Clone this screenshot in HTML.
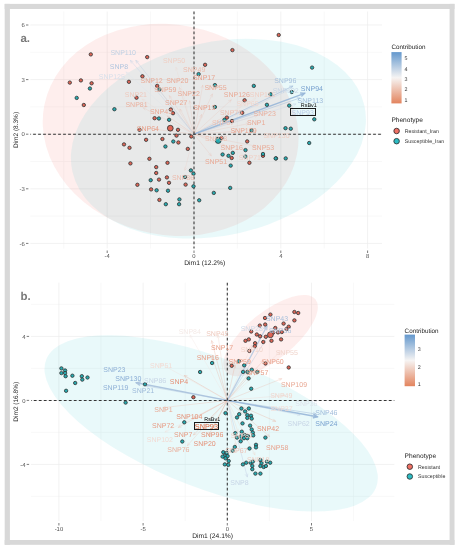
<!DOCTYPE html>
<html><head><meta charset="utf-8"><style>html,body{margin:0;padding:0;background:#fff;width:460px;height:550px;overflow:hidden}svg{display:block;will-change:transform;text-rendering:geometricPrecision;filter:blur(0.35px)}</style></head><body>
<svg width="460" height="550" viewBox="0 0 460 550">
<style>
.gmin{stroke:#f3f3f3;stroke-width:0.6}
.gmaj{stroke:#ededed;stroke-width:0.7}
.tick{stroke:#444;stroke-width:0.7}
.tl{font-family:"Liberation Sans",sans-serif;font-size:5.9px;fill:#4d4d4d}
.vl{font-family:"Liberation Sans",sans-serif;font-size:7px}
.ax{stroke:#333;stroke-width:1.05;stroke-dasharray:2.8 2.2}
.pt circle{stroke:#2e3434;stroke-width:0.8}
.ttl{font-family:"Liberation Sans",sans-serif;font-size:6.6px;fill:#222}
.lt{font-family:"Liberation Sans",sans-serif;font-size:6.6px;fill:#222}
.ll{font-family:"Liberation Sans",sans-serif;font-size:5.3px;fill:#333}
.tag{font-family:"Liberation Sans",sans-serif;font-size:11.5px;font-weight:bold;fill:#7a7a7a}
</style>
<rect x="0" y="0" width="460" height="550" fill="#fff"/>
<g fill="#d8d8d8"><rect x="4.7" y="3.9" width="5.2" height="540.9"/><rect x="4.7" y="3.9" width="449.8" height="5.1"/><rect x="449.6" y="3.9" width="4.9" height="540.9"/><rect x="4.7" y="540" width="449.8" height="4.8"/></g>
<defs><linearGradient id="cb" x1="0" y1="0" x2="0" y2="1"><stop offset="0" stop-color="#6498cd"/><stop offset="0.5" stop-color="#f6f4f3"/><stop offset="1" stop-color="#e3845e"/></linearGradient></defs>
<line x1="63.8" y1="11.5" x2="63.8" y2="248.5" class="gmin"/>
<line x1="150.6" y1="11.5" x2="150.6" y2="248.5" class="gmin"/>
<line x1="237.4" y1="11.5" x2="237.4" y2="248.5" class="gmin"/>
<line x1="324.2" y1="11.5" x2="324.2" y2="248.5" class="gmin"/>
<line x1="30.3" y1="216.1" x2="382" y2="216.1" class="gmin"/>
<line x1="30.3" y1="161.5" x2="382" y2="161.5" class="gmin"/>
<line x1="30.3" y1="106.9" x2="382" y2="106.9" class="gmin"/>
<line x1="30.3" y1="52.3" x2="382" y2="52.3" class="gmin"/>
<line x1="107.2" y1="11.5" x2="107.2" y2="248.5" class="gmaj"/>
<line x1="194.0" y1="11.5" x2="194.0" y2="248.5" class="gmaj"/>
<line x1="280.8" y1="11.5" x2="280.8" y2="248.5" class="gmaj"/>
<line x1="367.6" y1="11.5" x2="367.6" y2="248.5" class="gmaj"/>
<line x1="30.3" y1="243.4" x2="382" y2="243.4" class="gmaj"/>
<line x1="30.3" y1="188.8" x2="382" y2="188.8" class="gmaj"/>
<line x1="30.3" y1="134.2" x2="382" y2="134.2" class="gmaj"/>
<line x1="30.3" y1="79.6" x2="382" y2="79.6" class="gmaj"/>
<line x1="30.3" y1="25.0" x2="382" y2="25.0" class="gmaj"/>
<ellipse cx="170.64" cy="129.89" rx="128.71" ry="105.15" transform="rotate(11.01 170.64 129.89)" fill="#F8766D" fill-opacity="0.12"/>
<ellipse cx="218.42" cy="138.65" rx="149.7" ry="96.66" transform="rotate(-12.78 218.42 138.65)" fill="#00BFC4" fill-opacity="0.085"/>
<g stroke="#efcfc4" stroke-opacity="0.35" stroke-width="0.5" fill="none" stroke-linecap="round"><line x1="194" y1="134.2" x2="176.0" y2="67.2"/><polyline points="177.8,69.4 176.0,67.2 175.5,70.0"/></g>
<g stroke="#e9aa96" stroke-opacity="0.35" stroke-width="0.5" fill="none" stroke-linecap="round"><line x1="194" y1="134.2" x2="156.2" y2="86.2"/><polyline points="158.7,87.5 156.2,86.2 156.9,88.9"/></g>
<g stroke="#e9aa96" stroke-opacity="0.35" stroke-width="0.5" fill="none" stroke-linecap="round"><line x1="194" y1="134.2" x2="179.5" y2="87.5"/><polyline points="181.4,89.5 179.5,87.5 179.1,90.2"/></g>
<g stroke="#e9aa96" stroke-opacity="0.35" stroke-width="0.5" fill="none" stroke-linecap="round"><line x1="194" y1="134.2" x2="169.3" y2="95.7"/><polyline points="171.7,97.2 169.3,95.7 169.7,98.5"/></g>
<g stroke="#eec9bd" stroke-opacity="0.35" stroke-width="0.5" fill="none" stroke-linecap="round"><line x1="194" y1="134.2" x2="142.1" y2="99.1"/><polyline points="144.9,99.5 142.1,99.1 143.6,101.5"/></g>
<g stroke="#eab09e" stroke-opacity="0.35" stroke-width="0.5" fill="none" stroke-linecap="round"><line x1="194" y1="134.2" x2="143.2" y2="107.8"/><polyline points="146.0,107.9 143.2,107.8 144.9,110.0"/></g>
<g stroke="#e9aa96" stroke-opacity="0.35" stroke-width="0.5" fill="none" stroke-linecap="round"><line x1="194" y1="134.2" x2="179.9" y2="109.0"/><polyline points="182.1,110.7 179.9,109.0 180.1,111.8"/></g>
<g stroke="#e9aa96" stroke-opacity="0.35" stroke-width="0.5" fill="none" stroke-linecap="round"><line x1="194" y1="134.2" x2="167.2" y2="115.9"/><polyline points="170.0,116.4 167.2,115.9 168.6,118.3"/></g>
<g stroke="#e79d86" stroke-opacity="0.35" stroke-width="0.5" fill="none" stroke-linecap="round"><line x1="194" y1="134.2" x2="155.3" y2="129.4"/><polyline points="158.0,128.6 155.3,129.4 157.7,130.9"/></g>
<g stroke="#ecbcad" stroke-opacity="0.35" stroke-width="0.5" fill="none" stroke-linecap="round"><line x1="194" y1="134.2" x2="194.2" y2="76.6"/><polyline points="195.4,79.1 194.2,76.6 193.0,79.1"/></g>
<g stroke="#e8a38e" stroke-opacity="0.35" stroke-width="0.5" fill="none" stroke-linecap="round"><line x1="194" y1="134.2" x2="202.7" y2="85.3"/><polyline points="203.4,88.0 202.7,85.3 201.1,87.6"/></g>
<g stroke="#e9aa96" stroke-opacity="0.35" stroke-width="0.5" fill="none" stroke-linecap="round"><line x1="194" y1="134.2" x2="212.4" y2="94.0"/><polyline points="212.4,96.8 212.4,94.0 210.2,95.8"/></g>
<g stroke="#e9aa96" stroke-opacity="0.35" stroke-width="0.5" fill="none" stroke-linecap="round"><line x1="194" y1="134.2" x2="189.7" y2="100.8"/><polyline points="191.2,103.2 189.7,100.8 188.8,103.5"/></g>
<g stroke="#e9aa96" stroke-opacity="0.35" stroke-width="0.5" fill="none" stroke-linecap="round"><line x1="194" y1="134.2" x2="231.3" y2="99.8"/><polyline points="230.2,102.4 231.3,99.8 228.6,100.6"/></g>
<g stroke="#e8a38e" stroke-opacity="0.35" stroke-width="0.5" fill="none" stroke-linecap="round"><line x1="194" y1="134.2" x2="201.6" y2="114.6"/><polyline points="201.8,117.4 201.6,114.6 199.6,116.5"/></g>
<g stroke="#edc2b5" stroke-opacity="0.35" stroke-width="0.5" fill="none" stroke-linecap="round"><line x1="194" y1="134.2" x2="224.5" y2="116.6"/><polyline points="222.9,118.8 224.5,116.6 221.7,116.8"/></g>
<g stroke="#eab09e" stroke-opacity="0.35" stroke-width="0.5" fill="none" stroke-linecap="round"><line x1="194" y1="134.2" x2="257.5" y2="115.3"/><polyline points="255.4,117.2 257.5,115.3 254.7,114.9"/></g>
<g stroke="#e9aa96" stroke-opacity="0.35" stroke-width="0.5" fill="none" stroke-linecap="round"><line x1="194" y1="134.2" x2="248.8" y2="123.6"/><polyline points="246.6,125.3 248.8,123.6 246.1,122.9"/></g>
<g stroke="#e8a38e" stroke-opacity="0.35" stroke-width="0.5" fill="none" stroke-linecap="round"><line x1="194" y1="134.2" x2="236.0" y2="131.4"/><polyline points="233.6,132.7 236.0,131.4 233.4,130.4"/></g>
<g stroke="#edc2b5" stroke-opacity="0.35" stroke-width="0.5" fill="none" stroke-linecap="round"><line x1="194" y1="134.2" x2="216.1" y2="125.1"/><polyline points="214.2,127.1 216.1,125.1 213.3,124.9"/></g>
<g stroke="#efcfc4" stroke-opacity="0.35" stroke-width="0.5" fill="none" stroke-linecap="round"><line x1="194" y1="134.2" x2="256.0" y2="97.9"/><polyline points="254.4,100.2 256.0,97.9 253.2,98.1"/></g>
<g stroke="#f0d5cc" stroke-opacity="0.35" stroke-width="0.5" fill="none" stroke-linecap="round"><line x1="194" y1="134.2" x2="241.0" y2="106.8"/><polyline points="239.4,109.1 241.0,106.8 238.2,107.0"/></g>
<g stroke="#efcfc4" stroke-opacity="0.35" stroke-width="0.5" fill="none" stroke-linecap="round"><line x1="194" y1="134.2" x2="269.0" y2="135.6"/><polyline points="266.4,136.7 269.0,135.6 266.5,134.3"/></g>
<g stroke="#edc2b5" stroke-opacity="0.35" stroke-width="0.5" fill="none" stroke-linecap="round"><line x1="194" y1="134.2" x2="208.6" y2="136.9"/><polyline points="205.9,137.6 208.6,136.9 206.3,135.3"/></g>
<g stroke="#e9aa96" stroke-opacity="0.35" stroke-width="0.5" fill="none" stroke-linecap="round"><line x1="194" y1="134.2" x2="224.7" y2="145.3"/><polyline points="221.9,145.6 224.7,145.3 222.7,143.4"/></g>
<g stroke="#e9aa96" stroke-opacity="0.35" stroke-width="0.5" fill="none" stroke-linecap="round"><line x1="194" y1="134.2" x2="255.6" y2="146.1"/><polyline points="252.9,146.8 255.6,146.1 253.4,144.4"/></g>
<g stroke="#e9aa96" stroke-opacity="0.35" stroke-width="0.5" fill="none" stroke-linecap="round"><line x1="194" y1="134.2" x2="211.3" y2="155.8"/><polyline points="208.8,154.6 211.3,155.8 210.7,153.1"/></g>
<g stroke="#efcfc4" stroke-opacity="0.35" stroke-width="0.5" fill="none" stroke-linecap="round"><line x1="194" y1="134.2" x2="243.0" y2="154.4"/><polyline points="240.2,154.6 243.0,154.4 241.1,152.4"/></g>
<g stroke="#ecbcad" stroke-opacity="0.35" stroke-width="0.5" fill="none" stroke-linecap="round"><line x1="194" y1="134.2" x2="184.8" y2="170.3"/><polyline points="184.3,167.6 184.8,170.3 186.6,168.2"/></g>
<g stroke="#c7d5e6" stroke-opacity="0.9" stroke-width="0.5" fill="none" stroke-linecap="round"><line x1="194" y1="134.2" x2="130.4" y2="60.4"/><polyline points="133.0,61.5 130.4,60.4 131.2,63.1"/></g>
<g stroke="#bfd0e3" stroke-opacity="0.9" stroke-width="0.5" fill="none" stroke-linecap="round"><line x1="194" y1="134.2" x2="135.9" y2="60.4"/><polyline points="138.4,61.7 135.9,60.4 136.5,63.1"/></g>
<g stroke="#dee4ec" stroke-opacity="0.9" stroke-width="0.5" fill="none" stroke-linecap="round"><line x1="194" y1="134.2" x2="126.0" y2="72.0"/><polyline points="128.7,72.8 126.0,72.0 127.1,74.6"/></g>
<g stroke="#a7c0dc" stroke-opacity="0.9" stroke-width="0.8" fill="none" stroke-linecap="round"><line x1="194" y1="134.2" x2="292.8" y2="86.1"/><polyline points="290.8,88.6 292.8,86.1 289.6,86.2"/></g>
<g stroke="#c7d5e6" stroke-opacity="0.9" stroke-width="0.5" fill="none" stroke-linecap="round"><line x1="194" y1="134.2" x2="288.0" y2="90.5"/><polyline points="286.2,92.6 288.0,90.5 285.2,90.5"/></g>
<g stroke="#a7c0dc" stroke-opacity="0.9" stroke-width="0.6" fill="none" stroke-linecap="round"><line x1="194" y1="134.2" x2="300.0" y2="98.0"/><polyline points="297.9,100.0 300.0,98.0 297.1,97.7"/></g>
<g stroke="#cedae8" stroke-opacity="0.9" stroke-width="0.5" fill="none" stroke-linecap="round"><line x1="194" y1="134.2" x2="296.0" y2="104.0"/><polyline points="293.9,105.9 296.0,104.0 293.2,103.6"/></g>
<g stroke="#97b6d8" stroke-opacity="0.9" stroke-width="1.4" fill="none" stroke-linecap="round"><line x1="194" y1="134.2" x2="304.5" y2="93.3"/><polyline points="301.8,96.1 304.5,93.3 300.6,93.0"/></g>
<line x1="30.3" y1="134.2" x2="382" y2="134.2" class="ax" stroke-dashoffset="2.2"/>
<line x1="194" y1="11.5" x2="194" y2="248.5" class="ax"/>
<g class="pt"><circle cx="90.8" cy="54.4" r="1.7" fill="#dd6556"/>
<circle cx="69.8" cy="82.6" r="1.7" fill="#dd6556"/>
<circle cx="80.9" cy="80.4" r="1.7" fill="#dd6556"/>
<circle cx="91.6" cy="83.3" r="1.7" fill="#dd6556"/>
<circle cx="83.8" cy="105" r="1.7" fill="#dd6556"/>
<circle cx="147.2" cy="57.1" r="1.7" fill="#dd6556"/>
<circle cx="142.4" cy="76.3" r="1.7" fill="#dd6556"/>
<circle cx="128.9" cy="81.8" r="1.7" fill="#dd6556"/>
<circle cx="157.2" cy="85.9" r="1.7" fill="#dd6556"/>
<circle cx="136.5" cy="97.7" r="1.7" fill="#dd6556"/>
<circle cx="170.8" cy="109.5" r="1.7" fill="#dd6556"/>
<circle cx="173" cy="113.2" r="1.7" fill="#dd6556"/>
<circle cx="154.6" cy="118.2" r="1.7" fill="#dd6556"/>
<circle cx="178" cy="129.8" r="1.7" fill="#dd6556"/>
<circle cx="139.5" cy="129.8" r="1.7" fill="#dd6556"/>
<circle cx="176.5" cy="135.6" r="1.7" fill="#dd6556"/>
<circle cx="146.1" cy="139.8" r="1.7" fill="#dd6556"/>
<circle cx="162.4" cy="139" r="1.7" fill="#dd6556"/>
<circle cx="278.7" cy="35" r="1.7" fill="#dd6556"/>
<circle cx="232.4" cy="50.1" r="1.7" fill="#dd6556"/>
<circle cx="205.1" cy="64.8" r="1.7" fill="#dd6556"/>
<circle cx="244.6" cy="100.3" r="1.7" fill="#dd6556"/>
<circle cx="242.2" cy="112.8" r="1.7" fill="#dd6556"/>
<circle cx="226.9" cy="117.6" r="1.7" fill="#dd6556"/>
<circle cx="232" cy="121" r="1.7" fill="#dd6556"/>
<circle cx="191.3" cy="136.5" r="1.7" fill="#dd6556"/>
<circle cx="221.5" cy="137.9" r="1.7" fill="#dd6556"/>
<circle cx="124" cy="144.4" r="1.7" fill="#dd6556"/>
<circle cx="129.5" cy="147.8" r="1.7" fill="#dd6556"/>
<circle cx="178.4" cy="142.5" r="1.7" fill="#dd6556"/>
<circle cx="187.8" cy="148.9" r="1.7" fill="#dd6556"/>
<circle cx="149.4" cy="158.8" r="1.7" fill="#dd6556"/>
<circle cx="130.4" cy="163.4" r="1.7" fill="#dd6556"/>
<circle cx="167.5" cy="162.8" r="1.7" fill="#dd6556"/>
<circle cx="156.2" cy="167.1" r="1.7" fill="#dd6556"/>
<circle cx="156.2" cy="173" r="1.7" fill="#dd6556"/>
<circle cx="166.9" cy="177.4" r="1.7" fill="#dd6556"/>
<circle cx="159" cy="179.6" r="1.7" fill="#dd6556"/>
<circle cx="169" cy="182.8" r="1.7" fill="#dd6556"/>
<circle cx="137.4" cy="184.8" r="1.7" fill="#dd6556"/>
<circle cx="185.6" cy="184.6" r="1.7" fill="#dd6556"/>
<circle cx="151.1" cy="189.4" r="1.7" fill="#dd6556"/>
<circle cx="159.4" cy="199.9" r="1.7" fill="#dd6556"/>
<circle cx="247.2" cy="141.4" r="1.7" fill="#dd6556"/>
<circle cx="231.7" cy="158" r="1.7" fill="#dd6556"/>
<circle cx="249.4" cy="162.8" r="1.7" fill="#dd6556"/>
<circle cx="263" cy="155.8" r="1.7" fill="#dd6556"/><circle cx="89.9" cy="88.5" r="1.7" fill="#27aab0"/>
<circle cx="76.7" cy="97.9" r="1.7" fill="#27aab0"/>
<circle cx="159.4" cy="89.4" r="1.7" fill="#27aab0"/>
<circle cx="114.4" cy="109.2" r="1.7" fill="#27aab0"/>
<circle cx="158.9" cy="118.5" r="1.7" fill="#27aab0"/>
<circle cx="169.1" cy="119.8" r="1.7" fill="#27aab0"/>
<circle cx="198.6" cy="74.1" r="1.7" fill="#27aab0"/>
<circle cx="214.9" cy="85.1" r="1.7" fill="#27aab0"/>
<circle cx="253.8" cy="85.9" r="1.7" fill="#27aab0"/>
<circle cx="270.6" cy="94.3" r="1.7" fill="#27aab0"/>
<circle cx="266.9" cy="104.8" r="1.7" fill="#27aab0"/>
<circle cx="214.9" cy="107" r="1.7" fill="#27aab0"/>
<circle cx="224.5" cy="119.8" r="1.7" fill="#27aab0"/>
<circle cx="251.6" cy="130.4" r="1.7" fill="#27aab0"/>
<circle cx="218" cy="139" r="1.7" fill="#27aab0"/>
<circle cx="312.1" cy="67.6" r="1.7" fill="#27aab0"/>
<circle cx="291.8" cy="92" r="1.7" fill="#27aab0"/>
<circle cx="289.2" cy="105.6" r="1.7" fill="#27aab0"/>
<circle cx="314.3" cy="119.3" r="1.7" fill="#27aab0"/>
<circle cx="285.5" cy="128.2" r="1.7" fill="#27aab0"/>
<circle cx="290.8" cy="128.7" r="1.7" fill="#27aab0"/>
<circle cx="165.4" cy="146.5" r="1.7" fill="#27aab0"/>
<circle cx="173.3" cy="141.5" r="1.7" fill="#27aab0"/>
<circle cx="150.7" cy="180.2" r="1.7" fill="#27aab0"/>
<circle cx="156.6" cy="190.3" r="1.7" fill="#27aab0"/>
<circle cx="168" cy="190.7" r="1.7" fill="#27aab0"/>
<circle cx="179.4" cy="199.4" r="1.7" fill="#27aab0"/>
<circle cx="165.8" cy="204.2" r="1.7" fill="#27aab0"/>
<circle cx="179.1" cy="204.2" r="1.7" fill="#27aab0"/>
<circle cx="185" cy="177" r="1.7" fill="#27aab0"/>
<circle cx="222.6" cy="154.5" r="1.7" fill="#27aab0"/>
<circle cx="228.5" cy="155.8" r="1.7" fill="#27aab0"/>
<circle cx="232.8" cy="152.9" r="1.7" fill="#27aab0"/>
<circle cx="245.5" cy="150.1" r="1.7" fill="#27aab0"/>
<circle cx="245.5" cy="156.6" r="1.7" fill="#27aab0"/>
<circle cx="263" cy="154" r="1.7" fill="#27aab0"/>
<circle cx="276" cy="158.4" r="1.7" fill="#27aab0"/>
<circle cx="230.7" cy="165.6" r="1.7" fill="#27aab0"/>
<circle cx="190.9" cy="170.4" r="1.7" fill="#27aab0"/>
<circle cx="193.5" cy="173.7" r="1.7" fill="#27aab0"/>
<circle cx="193.5" cy="186.3" r="1.7" fill="#27aab0"/>
<circle cx="230.2" cy="187.9" r="1.7" fill="#27aab0"/>
<circle cx="213.8" cy="192.9" r="1.7" fill="#27aab0"/>
<circle cx="199.2" cy="200.3" r="1.7" fill="#27aab0"/>
<circle cx="309.2" cy="143" r="1.7" fill="#27aab0"/>
<circle cx="275.7" cy="158.4" r="1.7" fill="#27aab0"/>
<circle cx="285.7" cy="158.4" r="1.7" fill="#27aab0"/><circle cx="170.3" cy="128.2" r="2.9" fill="#dd6556"/><circle cx="218.2" cy="140.5" r="2.9" fill="#27aab0"/></g>
<text x="123.2" y="55.3" fill="#bfd0e3" fill-opacity="1.0" text-anchor="middle" class="vl">SNP110</text>
<text x="119" y="68.8" fill="#afc5df" fill-opacity="1.0" text-anchor="middle" class="vl">SNP8</text>
<text x="111.8" y="79.3" fill="#d6dfea" fill-opacity="1.0" text-anchor="middle" class="vl">SNP125</text>
<text x="174" y="62.5" fill="#efcfc4" fill-opacity="1.0" text-anchor="middle" class="vl">SNP50</text>
<text x="151.6" y="82.8" fill="#e9aa96" fill-opacity="1.0" text-anchor="middle" class="vl">SNP12</text>
<text x="177.3" y="82.8" fill="#e9aa96" fill-opacity="1.0" text-anchor="middle" class="vl">SNP20</text>
<text x="165.3" y="91.9" fill="#e9aa96" fill-opacity="1.0" text-anchor="middle" class="vl">SNP59</text>
<text x="135.9" y="97.4" fill="#eec9bd" fill-opacity="1.0" text-anchor="middle" class="vl">SNP21</text>
<text x="136.5" y="106.8" fill="#eab09e" fill-opacity="1.0" text-anchor="middle" class="vl">SNP81</text>
<text x="176.2" y="105.0" fill="#e9aa96" fill-opacity="1.0" text-anchor="middle" class="vl">SNP27</text>
<text x="161" y="114.2" fill="#e9aa96" fill-opacity="1.0" text-anchor="middle" class="vl">SNP43</text>
<text x="147.9" y="131.0" fill="#e79d86" fill-opacity="1.0" text-anchor="middle" class="vl">SNP64</text>
<text x="194.2" y="71.6" fill="#ecbcad" fill-opacity="1.0" text-anchor="middle" class="vl">SNP49</text>
<text x="204" y="80.4" fill="#e8a38e" fill-opacity="1.0" text-anchor="middle" class="vl">SNP17</text>
<text x="215.5" y="89.7" fill="#e9aa96" fill-opacity="1.0" text-anchor="middle" class="vl">SNP55</text>
<text x="188.7" y="95.9" fill="#e9aa96" fill-opacity="1.0" text-anchor="middle" class="vl">SNP22</text>
<text x="236.8" y="97.2" fill="#e9aa96" fill-opacity="1.0" text-anchor="middle" class="vl">SNP126</text>
<text x="204.3" y="110.1" fill="#e8a38e" fill-opacity="1.0" text-anchor="middle" class="vl">SNP13</text>
<text x="231" y="115.3" fill="#edc2b5" fill-opacity="1.0" text-anchor="middle" class="vl">SNP79</text>
<text x="264.7" y="115.7" fill="#eab09e" fill-opacity="1.0" text-anchor="middle" class="vl">SNP23</text>
<text x="256.2" y="124.7" fill="#e9aa96" fill-opacity="1.0" text-anchor="middle" class="vl">SNP1</text>
<text x="243.5" y="133.4" fill="#e8a38e" fill-opacity="1.0" text-anchor="middle" class="vl">SNP109</text>
<text x="223" y="124.7" fill="#edc2b5" fill-opacity="1.0" text-anchor="middle" class="vl">SNP67</text>
<text x="262.5" y="96.6" fill="#efcfc4" fill-opacity="1.0" text-anchor="middle" class="vl">SNP115</text>
<text x="247.5" y="105.5" fill="#f0d5cc" fill-opacity="1.0" text-anchor="middle" class="vl">SNP65</text>
<text x="285.3" y="83.2" fill="#a7c0dc" fill-opacity="1.0" text-anchor="middle" class="vl">SNP96</text>
<text x="285.7" y="92.8" fill="#c7d5e6" fill-opacity="1.0" text-anchor="middle" class="vl">SNP102</text>
<text x="311.9" y="91.3" fill="#78a1cf" fill-opacity="1.0" text-anchor="middle" class="vl">SNP94</text>
<text x="310.4" y="102.8" fill="#9fbbda" fill-opacity="1.0" text-anchor="middle" class="vl">SNP113</text>
<text x="276.5" y="138.2" fill="#efcfc4" fill-opacity="1.0" text-anchor="middle" class="vl">SNP130</text>
<text x="216" y="140.8" fill="#edc2b5" fill-opacity="1.0" text-anchor="middle" class="vl">SNP38</text>
<text x="231.7" y="150.4" fill="#e9aa96" fill-opacity="1.0" text-anchor="middle" class="vl">SNP16</text>
<text x="263" y="150.0" fill="#e9aa96" fill-opacity="1.0" text-anchor="middle" class="vl">SNP53</text>
<text x="216" y="164.2" fill="#e9aa96" fill-opacity="1.0" text-anchor="middle" class="vl">SNP51</text>
<text x="249.9" y="159.8" fill="#efcfc4" fill-opacity="1.0" text-anchor="middle" class="vl">SNP71</text>
<text x="183" y="180.1" fill="#ecbcad" fill-opacity="1.0" text-anchor="middle" class="vl">SNP86</text>
<rect x="290.5" y="108.5" width="25" height="7" fill="none" stroke="#1a1a1a" stroke-width="1"/>
<text x="302.7" y="114.6" fill="#b9cde8" text-anchor="middle" class="vl">SNP93</text>
<text x="308.8" y="107" text-anchor="middle" style="font-family:'Liberation Sans',sans-serif;font-size:5.4px;fill:#000">RsBv1</text>
<line x1="107.2" y1="250.5" x2="107.2" y2="253.0" class="tick"/>
<text x="107.2" y="258.3" class="tl" text-anchor="middle">-4</text>
<line x1="194.0" y1="250.5" x2="194.0" y2="253.0" class="tick"/>
<text x="194.0" y="258.3" class="tl" text-anchor="middle">0</text>
<line x1="280.8" y1="250.5" x2="280.8" y2="253.0" class="tick"/>
<text x="280.8" y="258.3" class="tl" text-anchor="middle">4</text>
<line x1="367.6" y1="250.5" x2="367.6" y2="253.0" class="tick"/>
<text x="367.6" y="258.3" class="tl" text-anchor="middle">8</text>
<line x1="26.0" y1="243.4" x2="28.4" y2="243.4" class="tick"/>
<text x="24.8" y="245.5" class="tl" text-anchor="end">-6</text>
<line x1="26.0" y1="188.8" x2="28.4" y2="188.8" class="tick"/>
<text x="24.8" y="190.9" class="tl" text-anchor="end">-3</text>
<line x1="26.0" y1="134.2" x2="28.4" y2="134.2" class="tick"/>
<text x="24.8" y="136.3" class="tl" text-anchor="end">0</text>
<line x1="26.0" y1="79.6" x2="28.4" y2="79.6" class="tick"/>
<text x="24.8" y="81.7" class="tl" text-anchor="end">3</text>
<line x1="26.0" y1="25.0" x2="28.4" y2="25.0" class="tick"/>
<text x="24.8" y="27.1" class="tl" text-anchor="end">6</text>
<text x="204.7" y="265" class="ttl" text-anchor="middle" style="font-size:6.7px">Dim1 (12.2%)</text>
<text transform="translate(17.8 130) rotate(-90)" class="ttl" text-anchor="middle" style="font-size:6.5px">Dim2 (8.3%)</text>
<text x="20.4" y="41.8" class="tag">a.</text>
<text x="391.5" y="48.5" class="lt" style="font-size:6.3px">Contribution</text>
<rect x="391.4" y="52.1" width="10.2" height="51.3" fill="url(#cb)"/>
<text x="404.5" y="60.0" class="ll">5</text>
<text x="404.5" y="70.6" class="ll">4</text>
<text x="404.5" y="80.8" class="ll">3</text>
<text x="404.5" y="91.2" class="ll">2</text>
<text x="404.5" y="101.8" class="ll">1</text>
<text x="391.4" y="122" class="lt">Phenotype</text>
<circle cx="396.6" cy="131" r="2.75" fill="#f07064" stroke="#3a3030" stroke-width="0.9"/>
<circle cx="396.6" cy="141.2" r="2.75" fill="#2cbcc4" stroke="#2e3a3a" stroke-width="0.9"/>
<text x="404.7" y="133" class="ll">Resistant_Iran</text>
<text x="404.7" y="143.3" class="ll">Susceptible_Iran</text>
<line x1="101.0" y1="282.7" x2="101.0" y2="521" class="gmin"/>
<line x1="185.2" y1="282.7" x2="185.2" y2="521" class="gmin"/>
<line x1="269.4" y1="282.7" x2="269.4" y2="521" class="gmin"/>
<line x1="353.6" y1="282.7" x2="353.6" y2="521" class="gmin"/>
<line x1="31" y1="496.4" x2="394.3" y2="496.4" class="gmin"/>
<line x1="31" y1="432.4" x2="394.3" y2="432.4" class="gmin"/>
<line x1="31" y1="368.4" x2="394.3" y2="368.4" class="gmin"/>
<line x1="31" y1="304.4" x2="394.3" y2="304.4" class="gmin"/>
<line x1="58.9" y1="282.7" x2="58.9" y2="521" class="gmaj"/>
<line x1="143.1" y1="282.7" x2="143.1" y2="521" class="gmaj"/>
<line x1="227.3" y1="282.7" x2="227.3" y2="521" class="gmaj"/>
<line x1="311.5" y1="282.7" x2="311.5" y2="521" class="gmaj"/>
<line x1="31" y1="464.4" x2="394.3" y2="464.4" class="gmaj"/>
<line x1="31" y1="400.4" x2="394.3" y2="400.4" class="gmaj"/>
<line x1="31" y1="336.4" x2="394.3" y2="336.4" class="gmaj"/>
<ellipse cx="270.59" cy="335.61" rx="57.63" ry="23.79" transform="rotate(-38.98 270.59 335.61)" fill="#F8766D" fill-opacity="0.12"/>
<ellipse cx="211.16" cy="423.44" rx="176.9" ry="65.28" transform="rotate(21.12 211.16 423.44)" fill="#00BFC4" fill-opacity="0.085"/>
<g stroke="#e9aa96" stroke-opacity="0.6" stroke-width="0.5" fill="none" stroke-linecap="round"><line x1="227.3" y1="400.4" x2="211.7" y2="340.7"/><polyline points="213.5,342.9 211.7,340.7 211.2,343.5"/></g>
<g stroke="#e9aa96" stroke-opacity="0.6" stroke-width="0.5" fill="none" stroke-linecap="round"><line x1="227.3" y1="400.4" x2="211.7" y2="355.9"/><polyline points="213.7,357.9 211.7,355.9 211.4,358.7"/></g>
<g stroke="#e79d86" stroke-opacity="0.6" stroke-width="0.5" fill="none" stroke-linecap="round"><line x1="227.3" y1="400.4" x2="184.3" y2="375.6"/><polyline points="187.1,375.8 184.3,375.6 185.9,377.9"/></g>
<g stroke="#f2dbd4" stroke-opacity="0.6" stroke-width="0.5" fill="none" stroke-linecap="round"><line x1="227.3" y1="400.4" x2="160.0" y2="363.5"/><polyline points="162.8,363.7 160.0,363.5 161.7,365.8"/></g>
<g stroke="#ebb6a6" stroke-opacity="0.6" stroke-width="0.5" fill="none" stroke-linecap="round"><line x1="227.3" y1="400.4" x2="163.0" y2="407.6"/><polyline points="165.4,406.1 163.0,407.6 165.7,408.5"/></g>
<g stroke="#e79d86" stroke-opacity="0.6" stroke-width="0.5" fill="none" stroke-linecap="round"><line x1="227.3" y1="400.4" x2="193.5" y2="418.3"/><polyline points="195.2,416.1 193.5,418.3 196.3,418.2"/></g>
<g stroke="#eab09e" stroke-opacity="0.6" stroke-width="0.5" fill="none" stroke-linecap="round"><line x1="227.3" y1="400.4" x2="178.3" y2="427.4"/><polyline points="180.0,425.1 178.3,427.4 181.1,427.2"/></g>
<g stroke="#e9aa96" stroke-opacity="0.6" stroke-width="0.5" fill="none" stroke-linecap="round"><line x1="227.3" y1="400.4" x2="193.5" y2="435.0"/><polyline points="194.4,432.4 193.5,435.0 196.1,434.0"/></g>
<g stroke="#ecbcad" stroke-opacity="0.6" stroke-width="0.5" fill="none" stroke-linecap="round"><line x1="227.3" y1="400.4" x2="187.4" y2="445.6"/><polyline points="188.2,442.9 187.4,445.6 190.0,444.5"/></g>
<g stroke="#e8a38e" stroke-opacity="0.6" stroke-width="0.5" fill="none" stroke-linecap="round"><line x1="227.3" y1="400.4" x2="208.7" y2="435.0"/><polyline points="208.9,432.2 208.7,435.0 210.9,433.3"/></g>
<g stroke="#e8a38e" stroke-opacity="0.6" stroke-width="0.5" fill="none" stroke-linecap="round"><line x1="227.3" y1="400.4" x2="213.3" y2="427.4"/><polyline points="213.4,424.6 213.3,427.4 215.5,425.7"/></g>
<g stroke="#e8a38e" stroke-opacity="0.6" stroke-width="0.5" fill="none" stroke-linecap="round"><line x1="227.3" y1="400.4" x2="275.6" y2="421.3"/><polyline points="272.8,421.4 275.6,421.3 273.7,419.2"/></g>
<g stroke="#eab09e" stroke-opacity="0.6" stroke-width="0.5" fill="none" stroke-linecap="round"><line x1="227.3" y1="400.4" x2="269.6" y2="436.5"/><polyline points="266.9,435.8 269.6,436.5 268.4,434.0"/></g>
<g stroke="#edc2b5" stroke-opacity="0.6" stroke-width="0.5" fill="none" stroke-linecap="round"><line x1="227.3" y1="400.4" x2="236.1" y2="445.6"/><polyline points="234.5,443.3 236.1,445.6 236.8,442.9"/></g>
<g stroke="#ebb6a6" stroke-opacity="0.6" stroke-width="0.5" fill="none" stroke-linecap="round"><line x1="227.3" y1="400.4" x2="281.7" y2="378.7"/><polyline points="279.8,380.7 281.7,378.7 278.9,378.5"/></g>
<g stroke="#eab09e" stroke-opacity="0.6" stroke-width="0.5" fill="none" stroke-linecap="round"><line x1="227.3" y1="400.4" x2="263.5" y2="360.4"/><polyline points="262.7,363.1 263.5,360.4 260.9,361.5"/></g>
<g stroke="#f0d5cc" stroke-opacity="0.6" stroke-width="0.5" fill="none" stroke-linecap="round"><line x1="227.3" y1="400.4" x2="284.8" y2="395.4"/><polyline points="282.4,396.8 284.8,395.4 282.2,394.4"/></g>
<g stroke="#f2dbd4" stroke-opacity="0.6" stroke-width="0.5" fill="none" stroke-linecap="round"><line x1="227.3" y1="400.4" x2="287.8" y2="410.6"/><polyline points="285.1,411.3 287.8,410.6 285.5,409.0"/></g>
<g stroke="#e9aa96" stroke-opacity="0.6" stroke-width="0.5" fill="none" stroke-linecap="round"><line x1="227.3" y1="400.4" x2="235.0" y2="365.0"/><polyline points="235.6,367.7 235.0,365.0 233.3,367.2"/></g>
<g stroke="#e9aa96" stroke-opacity="0.6" stroke-width="0.5" fill="none" stroke-linecap="round"><line x1="227.3" y1="400.4" x2="250.0" y2="372.0"/><polyline points="249.3,374.7 250.0,372.0 247.5,373.2"/></g>
<g stroke="#eec9bd" stroke-opacity="0.6" stroke-width="0.5" fill="none" stroke-linecap="round"><line x1="227.3" y1="400.4" x2="218.0" y2="335.0"/><polyline points="219.5,337.3 218.0,335.0 217.2,337.7"/></g>
<g stroke="#f3e1dc" stroke-opacity="0.6" stroke-width="0.5" fill="none" stroke-linecap="round"><line x1="227.3" y1="400.4" x2="190.0" y2="335.0"/><polyline points="192.3,336.6 190.0,335.0 190.2,337.8"/></g>
<g stroke="#f2dbd4" stroke-opacity="0.6" stroke-width="0.5" fill="none" stroke-linecap="round"><line x1="227.3" y1="400.4" x2="165.0" y2="432.0"/><polyline points="166.7,429.8 165.0,432.0 167.8,431.9"/></g>
<g stroke="#efcfc4" stroke-opacity="0.6" stroke-width="0.5" fill="none" stroke-linecap="round"><line x1="227.3" y1="400.4" x2="255.0" y2="455.0"/><polyline points="252.8,453.3 255.0,455.0 254.9,452.2"/></g>
<g stroke="#efcfc4" stroke-opacity="0.6" stroke-width="0.5" fill="none" stroke-linecap="round"><line x1="227.3" y1="400.4" x2="238.0" y2="432.0"/><polyline points="236.1,430.0 238.0,432.0 238.3,429.2"/></g>
<g stroke="#f0d5cc" stroke-opacity="0.6" stroke-width="0.5" fill="none" stroke-linecap="round"><line x1="227.3" y1="400.4" x2="280.0" y2="352.0"/><polyline points="278.9,354.6 280.0,352.0 277.3,352.8"/></g>
<g stroke="#f0d5cc" stroke-opacity="0.6" stroke-width="0.5" fill="none" stroke-linecap="round"><line x1="227.3" y1="400.4" x2="252.0" y2="345.0"/><polyline points="252.0,347.8 252.0,345.0 249.9,346.8"/></g>
<g stroke="#b7cae1" stroke-opacity="0.9" stroke-width="0.5" fill="none" stroke-linecap="round"><line x1="227.3" y1="400.4" x2="146.0" y2="386.0"/><polyline points="148.7,385.3 146.0,386.0 148.3,387.6"/></g>
<g stroke="#c7d5e6" stroke-opacity="0.9" stroke-width="0.5" fill="none" stroke-linecap="round"><line x1="227.3" y1="400.4" x2="300.0" y2="415.0"/><polyline points="297.3,415.7 300.0,415.0 297.7,413.3"/></g>
<g stroke="#b7cae1" stroke-opacity="0.9" stroke-width="0.5" fill="none" stroke-linecap="round"><line x1="227.3" y1="400.4" x2="272.0" y2="330.0"/><polyline points="271.6,332.8 272.0,330.0 269.6,331.5"/></g>
<g stroke="#c7d5e6" stroke-opacity="0.9" stroke-width="0.6" fill="none" stroke-linecap="round"><line x1="227.3" y1="400.4" x2="247.3" y2="476.9"/><polyline points="245.4,474.7 247.3,476.9 247.8,474.0"/></g>
<g stroke="#a7c0dc" stroke-opacity="0.9" stroke-width="0.6" fill="none" stroke-linecap="round"><line x1="227.3" y1="400.4" x2="316.0" y2="414.0"/><polyline points="313.2,414.8 316.0,414.0 313.6,412.4"/></g>
<g stroke="#b7cae1" stroke-opacity="0.9" stroke-width="1.3" fill="none" stroke-linecap="round"><line x1="227.3" y1="400.4" x2="267.0" y2="326.0"/><polyline points="266.8,329.8 267.0,326.0 264.0,328.3"/></g>
<g stroke="#a7c0dc" stroke-opacity="0.9" stroke-width="1.4" fill="none" stroke-linecap="round"><line x1="227.3" y1="400.4" x2="136.5" y2="382.8"/><polyline points="140.3,381.9 136.5,382.8 139.6,385.1"/></g>
<g stroke="#97b6d8" stroke-opacity="0.9" stroke-width="1.4" fill="none" stroke-linecap="round"><line x1="227.3" y1="400.4" x2="317.2" y2="416.8"/><polyline points="313.4,417.8 317.2,416.8 314.0,414.6"/></g>
<line x1="31" y1="400.4" x2="394.3" y2="400.4" class="ax" stroke-dashoffset="2.2"/>
<line x1="227.3" y1="282.7" x2="227.3" y2="521" class="ax"/>
<g class="pt"><circle cx="270.4" cy="314.6" r="1.7" fill="#dd6556"/>
<circle cx="265" cy="318" r="1.7" fill="#dd6556"/>
<circle cx="294.4" cy="312" r="1.7" fill="#dd6556"/>
<circle cx="298.2" cy="313" r="1.7" fill="#dd6556"/>
<circle cx="294.4" cy="320.4" r="1.7" fill="#dd6556"/>
<circle cx="283.6" cy="323.6" r="1.7" fill="#dd6556"/>
<circle cx="259.8" cy="325.6" r="1.7" fill="#dd6556"/>
<circle cx="265.2" cy="324.5" r="1.7" fill="#dd6556"/>
<circle cx="288.7" cy="326.7" r="1.7" fill="#dd6556"/>
<circle cx="286.5" cy="329.1" r="1.7" fill="#dd6556"/>
<circle cx="251.2" cy="331.5" r="1.7" fill="#dd6556"/>
<circle cx="275.3" cy="328" r="1.7" fill="#dd6556"/>
<circle cx="281.8" cy="332" r="1.7" fill="#dd6556"/>
<circle cx="278" cy="332.4" r="1.7" fill="#dd6556"/>
<circle cx="273.1" cy="332.6" r="1.7" fill="#dd6556"/>
<circle cx="256.8" cy="334.5" r="1.7" fill="#dd6556"/>
<circle cx="260.1" cy="336.3" r="1.7" fill="#dd6556"/>
<circle cx="265.8" cy="336.8" r="1.7" fill="#dd6556"/>
<circle cx="245.5" cy="340.8" r="1.7" fill="#dd6556"/>
<circle cx="248.8" cy="339.4" r="1.7" fill="#dd6556"/>
<circle cx="263.3" cy="342" r="1.7" fill="#dd6556"/>
<circle cx="271.5" cy="340.8" r="1.7" fill="#dd6556"/>
<circle cx="281.1" cy="339.4" r="1.7" fill="#dd6556"/>
<circle cx="255.1" cy="343.2" r="1.7" fill="#dd6556"/>
<circle cx="254.8" cy="346.3" r="1.7" fill="#dd6556"/>
<circle cx="249.4" cy="350.9" r="1.7" fill="#dd6556"/>
<circle cx="265.5" cy="363.5" r="1.7" fill="#dd6556"/>
<circle cx="288.7" cy="367.5" r="1.7" fill="#dd6556"/>
<circle cx="231.7" cy="365.8" r="1.7" fill="#dd6556"/>
<circle cx="193.4" cy="397.2" r="1.7" fill="#dd6556"/><circle cx="61.4" cy="368.4" r="1.7" fill="#27aab0"/>
<circle cx="65.1" cy="370.5" r="1.7" fill="#27aab0"/>
<circle cx="61.4" cy="373.1" r="1.7" fill="#27aab0"/>
<circle cx="65.1" cy="373.1" r="1.7" fill="#27aab0"/>
<circle cx="65.6" cy="376.2" r="1.7" fill="#27aab0"/>
<circle cx="72.4" cy="375.7" r="1.7" fill="#27aab0"/>
<circle cx="81.8" cy="376.2" r="1.7" fill="#27aab0"/>
<circle cx="87.5" cy="377.5" r="1.7" fill="#27aab0"/>
<circle cx="82.3" cy="379.6" r="1.7" fill="#27aab0"/>
<circle cx="75.2" cy="383" r="1.7" fill="#27aab0"/>
<circle cx="66.1" cy="390.8" r="1.7" fill="#27aab0"/>
<circle cx="125.6" cy="402.6" r="1.7" fill="#27aab0"/>
<circle cx="145" cy="384.3" r="1.7" fill="#27aab0"/>
<circle cx="212.1" cy="363" r="1.7" fill="#27aab0"/>
<circle cx="200.1" cy="372" r="1.7" fill="#27aab0"/>
<circle cx="238.8" cy="361.2" r="1.7" fill="#27aab0"/>
<circle cx="244.2" cy="365.3" r="1.7" fill="#27aab0"/>
<circle cx="251.8" cy="369.7" r="1.7" fill="#27aab0"/>
<circle cx="257.3" cy="371.9" r="1.7" fill="#27aab0"/>
<circle cx="247.5" cy="371.9" r="1.7" fill="#27aab0"/>
<circle cx="243.1" cy="371.9" r="1.7" fill="#27aab0"/>
<circle cx="248.6" cy="378.4" r="1.7" fill="#27aab0"/>
<circle cx="251.2" cy="388.7" r="1.7" fill="#27aab0"/>
<circle cx="184.3" cy="422.3" r="1.7" fill="#27aab0"/>
<circle cx="182.3" cy="441.5" r="1.7" fill="#27aab0"/>
<circle cx="225.5" cy="413.1" r="1.7" fill="#27aab0"/>
<circle cx="241.4" cy="408.5" r="1.7" fill="#27aab0"/>
<circle cx="245.1" cy="411.4" r="1.7" fill="#27aab0"/>
<circle cx="248.8" cy="408.5" r="1.7" fill="#27aab0"/>
<circle cx="239.2" cy="414.2" r="1.7" fill="#27aab0"/>
<circle cx="247.3" cy="415.1" r="1.7" fill="#27aab0"/>
<circle cx="251" cy="415.7" r="1.7" fill="#27aab0"/>
<circle cx="237" cy="417.5" r="1.7" fill="#27aab0"/>
<circle cx="247.3" cy="417.9" r="1.7" fill="#27aab0"/>
<circle cx="251.7" cy="418.6" r="1.7" fill="#27aab0"/>
<circle cx="242.5" cy="423.4" r="1.7" fill="#27aab0"/>
<circle cx="250.1" cy="425.6" r="1.7" fill="#27aab0"/>
<circle cx="251.7" cy="429.5" r="1.7" fill="#27aab0"/>
<circle cx="241.8" cy="431.7" r="1.7" fill="#27aab0"/>
<circle cx="252.8" cy="432.6" r="1.7" fill="#27aab0"/>
<circle cx="253.2" cy="435.4" r="1.7" fill="#27aab0"/>
<circle cx="235.3" cy="433.2" r="1.7" fill="#27aab0"/>
<circle cx="237" cy="437.6" r="1.7" fill="#27aab0"/>
<circle cx="240.7" cy="436.5" r="1.7" fill="#27aab0"/>
<circle cx="244.7" cy="435" r="1.7" fill="#27aab0"/>
<circle cx="247.9" cy="436" r="1.7" fill="#27aab0"/>
<circle cx="244" cy="438.2" r="1.7" fill="#27aab0"/>
<circle cx="247.3" cy="438.2" r="1.7" fill="#27aab0"/>
<circle cx="240.7" cy="441.3" r="1.7" fill="#27aab0"/>
<circle cx="265.4" cy="437.6" r="1.7" fill="#27aab0"/>
<circle cx="256" cy="444.8" r="1.7" fill="#27aab0"/>
<circle cx="256" cy="447.4" r="1.7" fill="#27aab0"/>
<circle cx="249.5" cy="448.5" r="1.7" fill="#27aab0"/>
<circle cx="234.8" cy="447" r="1.7" fill="#27aab0"/>
<circle cx="232.7" cy="450.7" r="1.7" fill="#27aab0"/>
<circle cx="223.3" cy="452.2" r="1.7" fill="#27aab0"/>
<circle cx="226.6" cy="452.9" r="1.7" fill="#27aab0"/>
<circle cx="224.8" cy="455.7" r="1.7" fill="#27aab0"/>
<circle cx="222.6" cy="456.6" r="1.7" fill="#27aab0"/>
<circle cx="227.6" cy="456.1" r="1.7" fill="#27aab0"/>
<circle cx="225.5" cy="458.3" r="1.7" fill="#27aab0"/>
<circle cx="228.7" cy="461" r="1.7" fill="#27aab0"/>
<circle cx="224.8" cy="464.4" r="1.7" fill="#27aab0"/>
<circle cx="228.3" cy="464.9" r="1.7" fill="#27aab0"/>
<circle cx="242.9" cy="464.4" r="1.7" fill="#27aab0"/>
<circle cx="246.2" cy="462.7" r="1.7" fill="#27aab0"/>
<circle cx="250.6" cy="462.7" r="1.7" fill="#27aab0"/>
<circle cx="252.8" cy="461.6" r="1.7" fill="#27aab0"/>
<circle cx="260.4" cy="460.1" r="1.7" fill="#27aab0"/>
<circle cx="261.5" cy="463.1" r="1.7" fill="#27aab0"/>
<circle cx="260.4" cy="466" r="1.7" fill="#27aab0"/>
<circle cx="263.7" cy="467" r="1.7" fill="#27aab0"/>
<circle cx="265.9" cy="466" r="1.7" fill="#27aab0"/>
<circle cx="266.9" cy="461.6" r="1.7" fill="#27aab0"/>
<circle cx="270.2" cy="462.7" r="1.7" fill="#27aab0"/>
<circle cx="252.3" cy="466" r="1.7" fill="#27aab0"/>
<circle cx="252.3" cy="469.2" r="1.7" fill="#27aab0"/>
<circle cx="255.4" cy="473.6" r="1.7" fill="#27aab0"/>
<circle cx="260.4" cy="473.6" r="1.7" fill="#27aab0"/><circle cx="270.4" cy="334.8" r="2.9" fill="#dd6556"/></g>
<text x="277" y="321.3" fill="#a7c0dc" fill-opacity="1.0" text-anchor="middle" class="vl">SNP43</text>
<text x="280.2" y="332.9" fill="#afc5df" fill-opacity="1.0" text-anchor="middle" class="vl">SNP36</text>
<text x="251.8" y="330.7" fill="#cedae8" fill-opacity="1.0" text-anchor="middle" class="vl">SNP28</text>
<text x="251.8" y="351.5" fill="#f0d5cc" fill-opacity="1.0" text-anchor="middle" class="vl">SNP10</text>
<text x="286.8" y="354.7" fill="#f0d5cc" fill-opacity="1.0" text-anchor="middle" class="vl">SNP55</text>
<text x="239.8" y="363.5" fill="#e79d86" fill-opacity="1.0" text-anchor="middle" class="vl">SNP59</text>
<text x="272.6" y="363.5" fill="#e8a38e" fill-opacity="1.0" text-anchor="middle" class="vl">SNP60</text>
<text x="257.3" y="375.0" fill="#e79d86" fill-opacity="1.0" text-anchor="middle" class="vl">SNP57</text>
<text x="294" y="386.8" fill="#e9aa96" fill-opacity="1.0" text-anchor="middle" class="vl">SNP109</text>
<text x="281.3" y="397.5" fill="#f0d5cc" fill-opacity="1.0" text-anchor="middle" class="vl">SNP49</text>
<text x="306.4" y="406.0" fill="#dee4ec" fill-opacity="1.0" text-anchor="middle" class="vl">SNP36</text>
<text x="189.8" y="333.6" fill="#f4eae7" fill-opacity="1.0" text-anchor="middle" class="vl">SNP84</text>
<text x="217.3" y="335.5" fill="#eec9bd" fill-opacity="1.0" text-anchor="middle" class="vl">SNP45</text>
<text x="222.1" y="350.4" fill="#e79d86" fill-opacity="1.0" text-anchor="middle" class="vl">SNP17</text>
<text x="207.8" y="359.5" fill="#e79d86" fill-opacity="1.0" text-anchor="middle" class="vl">SNP16</text>
<text x="161.1" y="367.9" fill="#f2dbd4" fill-opacity="1.0" text-anchor="middle" class="vl">SNP51</text>
<text x="179" y="383.9" fill="#e49177" fill-opacity="1.0" text-anchor="middle" class="vl">SNP4</text>
<text x="155.1" y="382.7" fill="#c7d5e6" fill-opacity="1.0" text-anchor="middle" class="vl">SNP86</text>
<text x="128.3" y="381.3" fill="#87abd4" fill-opacity="1.0" text-anchor="middle" class="vl">SNP130</text>
<text x="143.1" y="393.1" fill="#9fbbda" fill-opacity="1.0" text-anchor="middle" class="vl">SNP21</text>
<text x="114.4" y="372.2" fill="#8fb0d6" fill-opacity="1.0" text-anchor="middle" class="vl">SNP23</text>
<text x="115.7" y="389.9" fill="#8fb0d6" fill-opacity="1.0" text-anchor="middle" class="vl">SNP119</text>
<text x="163.5" y="411.7" fill="#e9aa96" fill-opacity="1.0" text-anchor="middle" class="vl">SNP1</text>
<text x="189.3" y="418.7" fill="#e49177" fill-opacity="1.0" text-anchor="middle" class="vl">SNP104</text>
<text x="163.1" y="428.1" fill="#e79d86" fill-opacity="1.0" text-anchor="middle" class="vl">SNP72</text>
<text x="183.2" y="437.2" fill="#e69b83" fill-opacity="1.0" text-anchor="middle" class="vl">SNP7</text>
<text x="212.2" y="437.2" fill="#e49177" fill-opacity="1.0" text-anchor="middle" class="vl">SNP96</text>
<text x="159.8" y="441.8" fill="#f2dbd4" fill-opacity="1.0" text-anchor="middle" class="vl">SNP102</text>
<text x="204.6" y="446.0" fill="#e5937a" fill-opacity="1.0" text-anchor="middle" class="vl">SNP20</text>
<text x="178.4" y="452.1" fill="#eab09e" fill-opacity="1.0" text-anchor="middle" class="vl">SNP76</text>
<text x="239.5" y="484.8" fill="#c7d5e6" fill-opacity="1.0" text-anchor="middle" class="vl">SNP8</text>
<text x="236.4" y="453.2" fill="#edc2b5" fill-opacity="1.0" text-anchor="middle" class="vl">SNP67</text>
<text x="268" y="431.3" fill="#e6977f" fill-opacity="1.0" text-anchor="middle" class="vl">SNP42</text>
<text x="277.2" y="449.9" fill="#e8a38e" fill-opacity="1.0" text-anchor="middle" class="vl">SNP58</text>
<text x="298.6" y="425.5" fill="#c7d5e6" fill-opacity="1.0" text-anchor="middle" class="vl">SNP62</text>
<text x="326.4" y="415.1" fill="#9fbbda" fill-opacity="1.0" text-anchor="middle" class="vl">SNP46</text>
<text x="326.4" y="425.5" fill="#78a1cf" fill-opacity="1.0" text-anchor="middle" class="vl">SNP24</text>
<text x="258.2" y="461.9" fill="#efcfc4" fill-opacity="1.0" text-anchor="middle" class="vl">SNP18</text>
<text x="241.8" y="437.5" fill="#efcfc4" fill-opacity="1.0" text-anchor="middle" class="vl">SNP82</text>
<text x="281.5" y="411.3" fill="#f2dbd4" fill-opacity="1.0" text-anchor="middle" class="vl">SNP37</text>
<rect x="194.5" y="422.5" width="24" height="7" fill="none" stroke="#1a1a1a" stroke-width="1"/>
<text x="206.4" y="428.6" fill="#e2683f" text-anchor="middle" class="vl" style="font-size:7.3px">SNP93</text>
<text x="212.2" y="420.8" text-anchor="middle" style="font-family:'Liberation Sans',sans-serif;font-size:5.4px;fill:#000">RsBv1</text>
<line x1="58.9" y1="523.0" x2="58.9" y2="525.5" class="tick"/>
<text x="58.9" y="530.8" class="tl" text-anchor="middle">-10</text>
<line x1="143.1" y1="523.0" x2="143.1" y2="525.5" class="tick"/>
<text x="143.1" y="530.8" class="tl" text-anchor="middle">-5</text>
<line x1="227.3" y1="523.0" x2="227.3" y2="525.5" class="tick"/>
<text x="227.3" y="530.8" class="tl" text-anchor="middle">0</text>
<line x1="311.5" y1="523.0" x2="311.5" y2="525.5" class="tick"/>
<text x="311.5" y="530.8" class="tl" text-anchor="middle">5</text>
<line x1="26.7" y1="464.4" x2="29.1" y2="464.4" class="tick"/>
<text x="25.5" y="466.5" class="tl" text-anchor="end">-4</text>
<line x1="26.7" y1="400.4" x2="29.1" y2="400.4" class="tick"/>
<text x="25.5" y="402.5" class="tl" text-anchor="end">0</text>
<line x1="26.7" y1="336.4" x2="29.1" y2="336.4" class="tick"/>
<text x="25.5" y="338.5" class="tl" text-anchor="end">4</text>
<text x="212.6" y="537.8" class="ttl" text-anchor="middle" style="font-size:6.7px">Dim1 (24.1%)</text>
<text transform="translate(17.8 401.8) rotate(-90)" class="ttl" text-anchor="middle" style="font-size:6.5px">Dim2 (16.8%)</text>
<text x="20.6" y="299.8" class="tag">b.</text>
<text x="404.6" y="333" class="lt" style="font-size:6.3px">Contribution</text>
<rect x="404.6" y="334.6" width="10.4" height="51.6" fill="url(#cb)"/>
<text x="417.8" y="350.90000000000003" class="ll">3</text>
<text x="417.8" y="369.1" class="ll">2</text>
<text x="417.8" y="385.8" class="ll">1</text>
<text x="404.6" y="457.8" class="lt">Phenotype</text>
<circle cx="409.8" cy="466.7" r="2.75" fill="#f07064" stroke="#3a3030" stroke-width="0.9"/>
<circle cx="409.8" cy="476.5" r="2.75" fill="#2cbcc4" stroke="#2e3a3a" stroke-width="0.9"/>
<text x="418" y="468.5" class="ll">Resistant</text>
<text x="418" y="478.3" class="ll">Susceptible</text>
</svg>
</body></html>
